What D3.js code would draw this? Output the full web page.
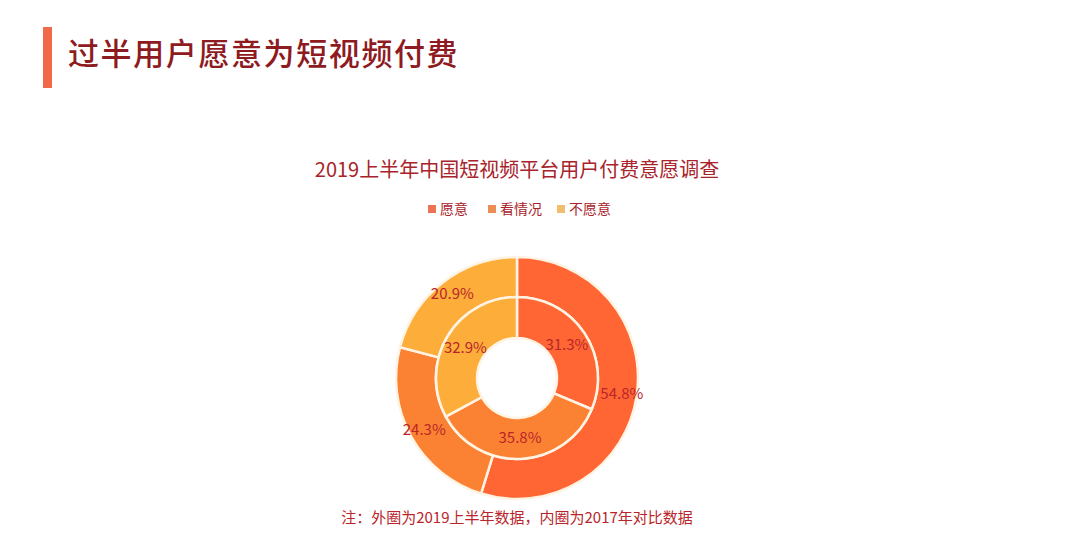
<!DOCTYPE html>
<html><head><meta charset="utf-8">
<script src="https://cdn.jsdelivr.net/npm/d3@7/dist/d3.min.js"></script>
<style>body{margin:0;background:#fff;}svg{display:block;font-family:"Noto Sans CJK SC","Noto Sans",sans-serif;}</style>
</head><body><svg id="c" width="1080" height="534"></svg>
<script>
const categories = ["愿意", "看情况", "不愿意"];
const outerValues = [54.8, 24.3, 20.9];   // 2019上半年
const innerValues = [31.3, 35.8, 32.9];   // 2017
const colors = ["#FF6633", "#FC8233", "#FDAD3A"];
const legendColors = ["#EC7352", "#EA8E55", "#F2BE6E"];
const pageTitle = "过半用户愿意为短视频付费";
const chartTitle = "2019上半年中国短视频平台用户付费意愿调查";
const note = "注：外圈为2019上半年数据，内圈为2017年对比数据";

const svg = d3.select("#c");
const cx = 517, cy = 378;

svg.append("rect").attr("x",43).attr("y",27).attr("width",9).attr("height",61).attr("fill","#F2694A");
svg.append("text").attr("x",68).attr("y",65).attr("font-size",31).attr("font-weight",500)
  .attr("fill","#8E1B1F").attr("letter-spacing",1.6).text(pageTitle);

svg.append("text").attr("x",cx).attr("y",177).attr("text-anchor","middle").attr("font-size",20)
  .attr("fill","#A8232A").text(chartTitle);

const legendX = [428, 488, 557];
const lg = svg.append("g");
categories.forEach((c,i)=>{
  lg.append("rect").attr("x",legendX[i]).attr("y",205).attr("width",8).attr("height",8).attr("fill",legendColors[i]);
  lg.append("text").attr("x",legendX[i]+12).attr("y",214).attr("font-size",14).attr("fill","#A8232A").text(c);
});

const pie = d3.pie().sort(null).value(d=>d);
const g = svg.append("g").attr("transform",`translate(${cx},${cy})`);

function ring(values, r0, r1, labelR){
  const arcs = pie(values);
  const arc = d3.arc().innerRadius(r0).outerRadius(r1);
  g.append("g").selectAll("path").data(arcs).join("path")
    .attr("d",arc).attr("fill",(d,i)=>colors[i]).attr("stroke","#FFF4E4").attr("stroke-width",2.5);
  const la = d3.arc().innerRadius(labelR).outerRadius(labelR);
  g.append("g").selectAll("text").data(arcs).join("text")
    .attr("transform",d=>`translate(${la.centroid(d)})`)
    .attr("text-anchor","middle").attr("dy","0.35em").attr("font-size",15)
    .attr("fill","#B8262B").text(d=>d.value.toFixed(1)+"%");
}
ring(outerValues, 81, 121, 106);
ring(innerValues, 40, 81, 60);

svg.append("text").attr("x",cx).attr("y",523).attr("text-anchor","middle").attr("font-size",15)
  .attr("fill","#B8262B").text(note);
</script></body></html>
